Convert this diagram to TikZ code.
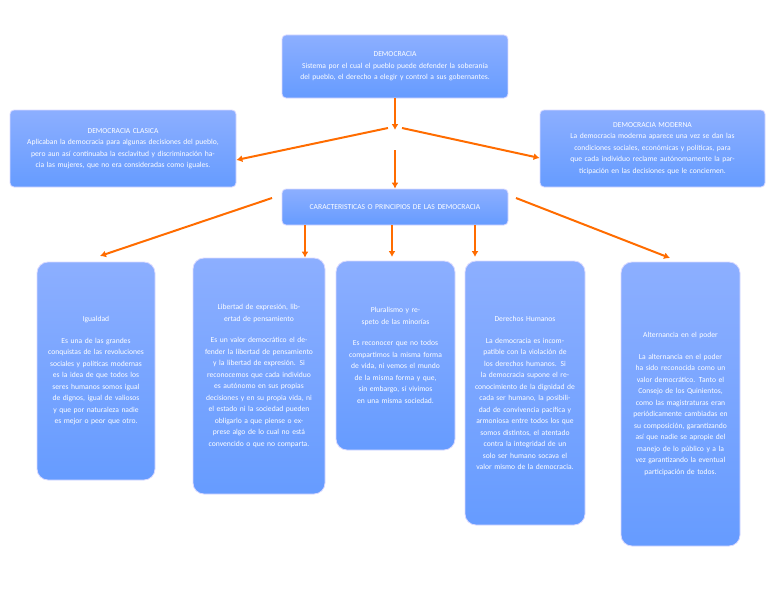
\documentclass[tikz,border=0pt]{standalone}
\usepackage{fontspec}
\setmainfont{Carlito}
\begin{document}
\begin{tikzpicture}[x=1pt,y=-1pt,
 box/.style={draw=blue!15!white,line width=0.8pt,rounded corners=4pt,top color=cyan!30!blue!45!white,bottom color=cyan!35!blue!60!white,text=white,align=center,inner sep=2pt,font=\fontsize{7.6}{11.5}\selectfont},
 tall/.style={box,rounded corners=11pt},
 arr/.style={draw=orange!85!red,line width=2pt,-{Latex[length=6pt,width=7pt]}}]
\usetikzlibrary{arrows.meta}
\useasboundingbox (0,0) rectangle (768,594);
\node[box,minimum width=226,minimum height=63,text width=215] (dem) at (395,66.5) {DEMOCRACIA\\Sistema por el cual el pueblo puede defender la soberanía del pueblo, el derecho a elegir y control a sus gobernantes.};
\node[box,minimum width=226,minimum height=77,text width=218] (cla) at (123,148.5) {DEMOCRACIA CLASICA\\Aplicaban la democracia para algunas decisiones del pueblo, pero aun así continuaba la esclavitud y discriminación hacia las mujeres, que no era consideradas como iguales.};
\node[box,minimum width=225,minimum height=77,text width=218] (mod) at (652.5,148.5) {DEMOCRACIA MODERNA\\La democracia moderna aparece una vez se dan las condiciones sociales, económicas y políticas, para que cada individuo reclame autónomamente la participación en las decisiones que le conciernen.};
\node[box,minimum width=226,minimum height=36,text width=180] (car) at (395,207) {CARACTERISTICAS O PRINCIPIOS DE LAS DEMOCRACIA};
\node[tall,minimum width=118,minimum height=218,text width=98] (igu) at (96,371) {Igualdad\\[10pt]Es una de las grandes conquistas de las revoluciones sociales y políticas modernas es la idea de que todos los seres humanos somos igual de dignos, igual de valiosos y que por naturaleza nadie es mejor o peor que otro.};
\node[tall,minimum width=132,minimum height=236,text width=112] (lib) at (259,376) {Libertad de expresión, libertad de pensamiento\\[10pt]Es un valor democrático el defender la libertad de pensamiento y la libertad de expresión. Si reconocemos que cada individuo es autónomo en sus propias decisiones y en su propia vida, ni el estado ni la sociedad pueden obligarlo a que piense o exprese algo de lo cual no está convencido o que no comparta.};
\node[tall,minimum width=119,minimum height=189,text width=100] (plu) at (395.5,355.5) {Pluralismo y respeto de las minorías\\[10pt]Es reconocer que no todos compartimos la misma forma de vida, ni vemos el mundo de la misma forma y que, sin embargo, sí vivimos en una misma sociedad.};
\node[tall,minimum width=120,minimum height=264,text width=100] (der) at (525,393) {Derechos Humanos\\[10pt]La democracia es incompatible con la violación de los derechos humanos. Si la democracia supone el reconocimiento de la dignidad de cada ser humano, la posibilidad de convivencia pacífica y armoniosa entre todos los que somos distintos, el atentado contra la integridad de un solo ser humano socava el valor mismo de la democracia.};
\node[tall,minimum width=119,minimum height=284,text width=100] (alt) at (680.5,404) {Alternancia en el poder\\[10pt]La alternancia en el poder ha sido reconocida como un valor democrático. Tanto el Consejo de los Quinientos, como las magistraturas eran periódicamente cambiadas en su composición, garantizando así que nadie se apropie del manejo de lo público y a la vez garantizando la eventual participación de todos.};
\coordinate (h) at (395,130);
\coordinate (hl) at (388,128);
\coordinate (hr) at (402,128);
\coordinate (v) at (395,150);
\draw[arr] (dem.south) -- (h);
\draw[arr] (hl) -- (cla.east |- 0,160);
\draw[arr] (hr) -- (mod.west |- 0,158);
\draw[arr] (v) -- (car.north);
\coordinate (cl) at (272,198);
\coordinate (cr) at (516,198);
\draw[arr] (cl) -- (100,256);
\draw[arr] (305,225) -- (lib.north -| 305,0);
\draw[arr] (392,225) -- (392,257);
\draw[arr] (475,225) -- (475,257);
\draw[arr] (cr) -- (670,258);
\end{tikzpicture}
\end{document}
